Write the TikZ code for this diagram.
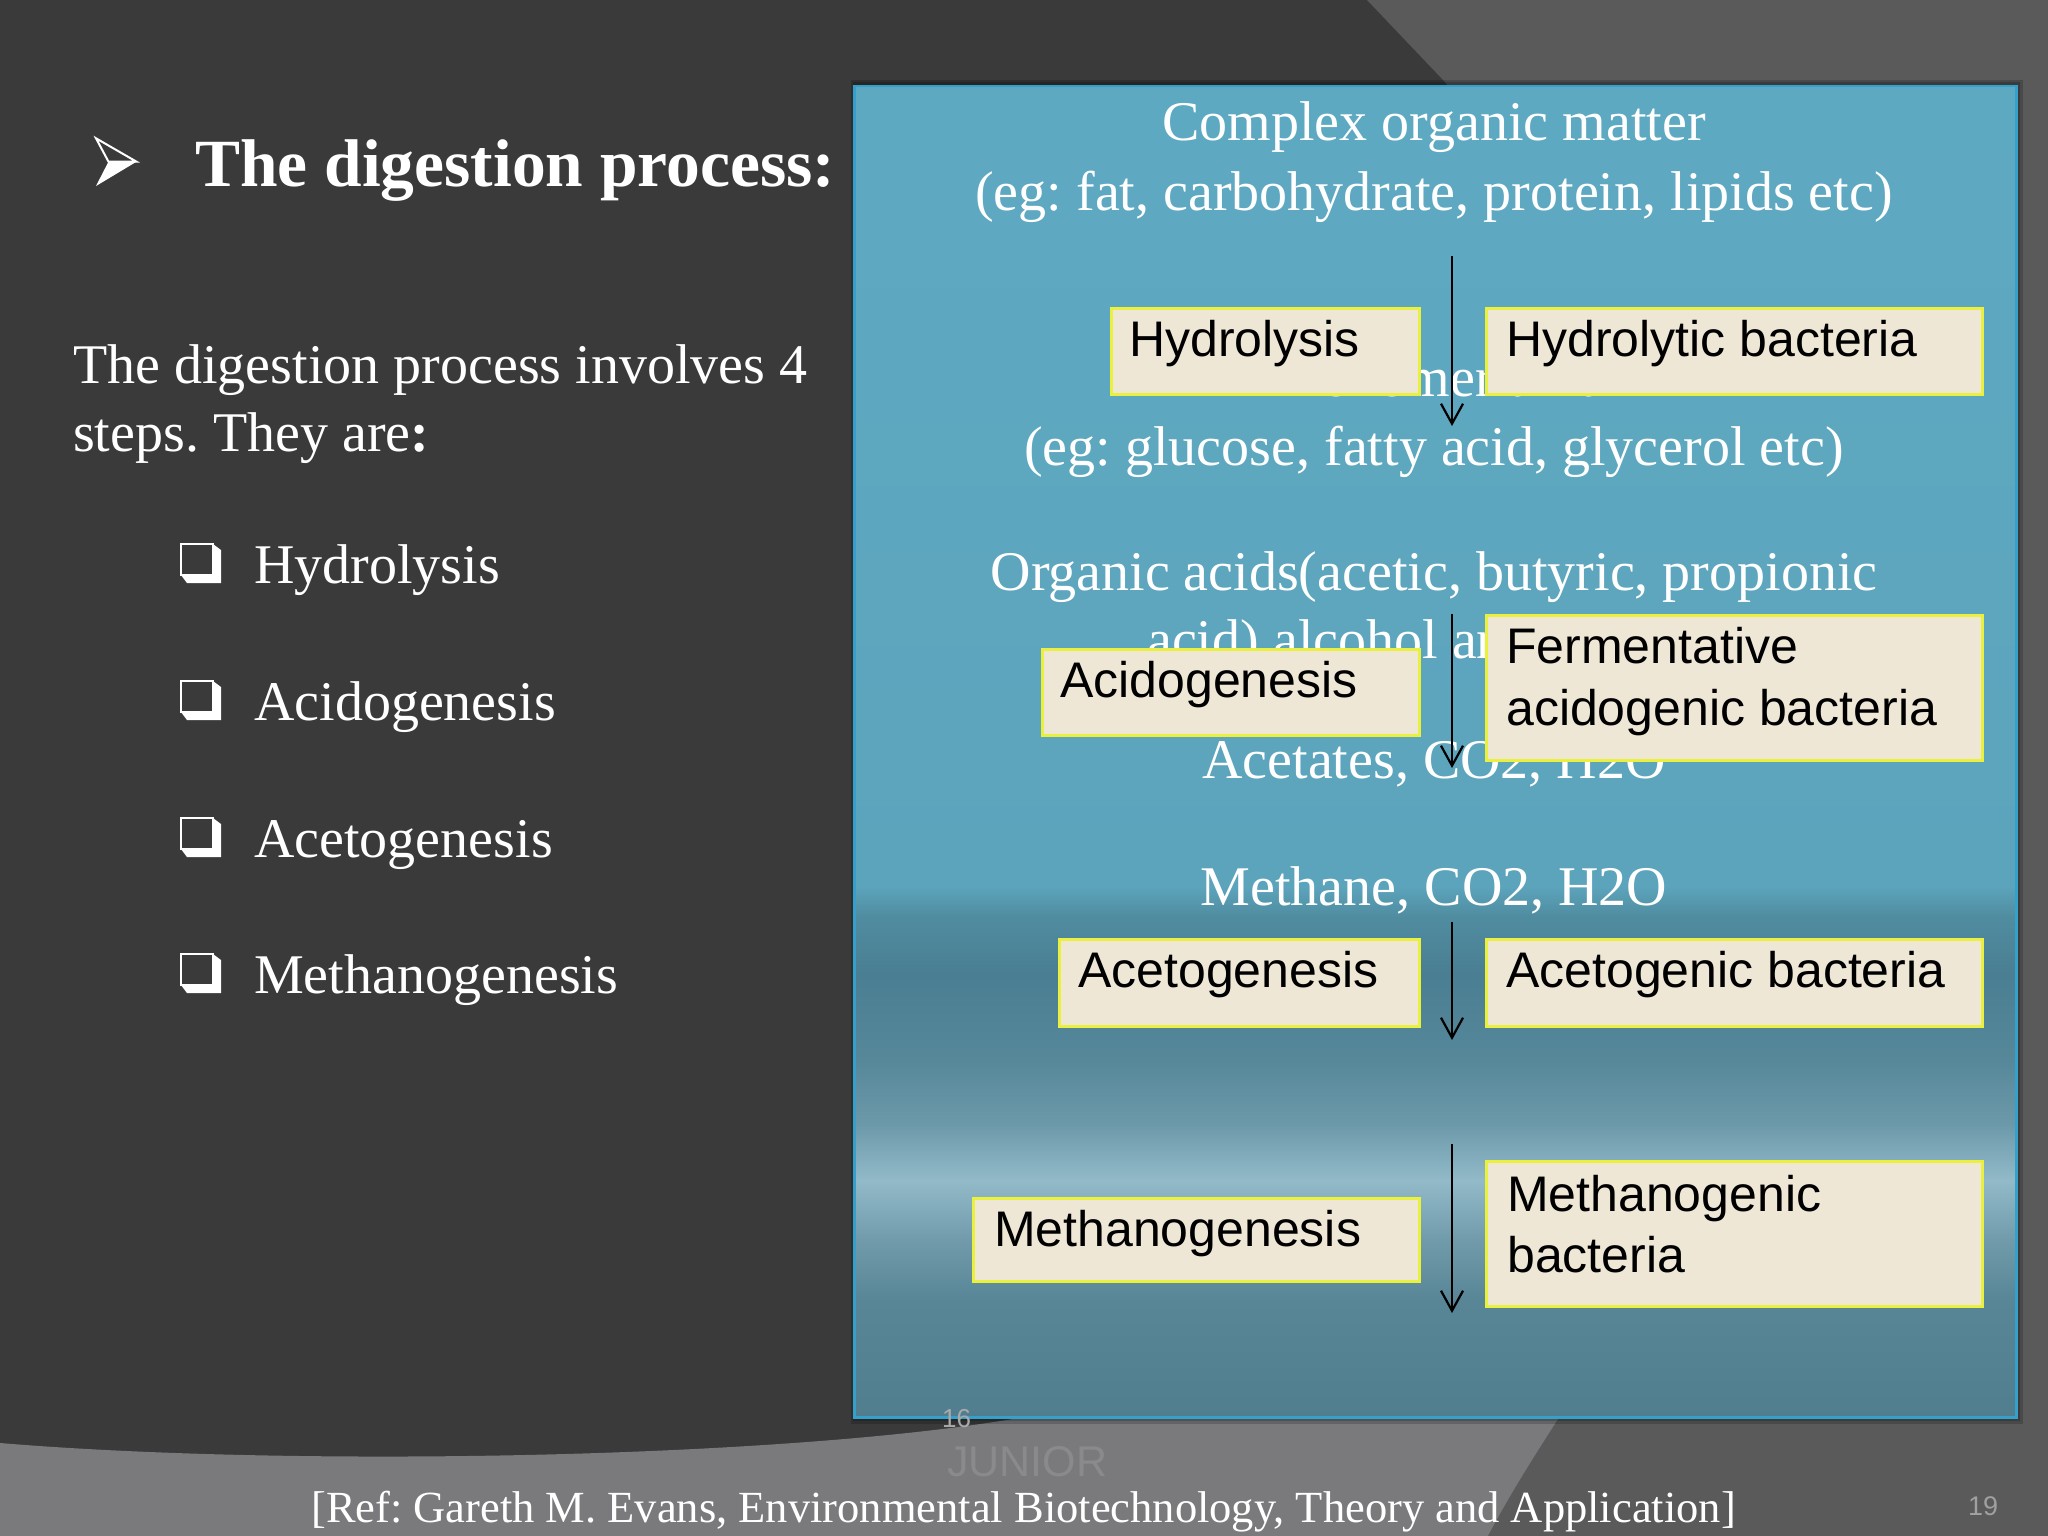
\documentclass[tikz,border=0pt]{standalone}
\usepackage{fontspec}
\setmainfont{Liberation Serif}
\newfontfamily\arialf{Liberation Sans}
\usetikzlibrary{arrows.meta}
\frenchspacing
\definecolor{bgdark}{RGB}{58,58,58}
\definecolor{bggray}{RGB}{90,90,90}
\definecolor{bglight}{RGB}{122,122,124}
\definecolor{boxfill}{RGB}{239,231,214}
\definecolor{boxedge}{RGB}{234,240,60}
\definecolor{paneledge}{RGB}{52,160,204}
\definecolor{pA}{RGB}{80,126,143}
\definecolor{pB}{RGB}{88,134,150}
\definecolor{pC}{RGB}{112,154,170}
\definecolor{pD}{RGB}{146,186,201}
\definecolor{pE}{RGB}{108,153,170}
\definecolor{pF}{RGB}{86,136,154}
\definecolor{pG}{RGB}{74,126,146}
\definecolor{pH}{RGB}{80,140,160}
\definecolor{pI}{RGB}{92,164,188}
\definecolor{pJ}{RGB}{94,169,194}
\pgfdeclareverticalshading{panelshade}{100bp}{color(0bp)=(pA); color(25bp)=(pA); color(29.4bp)=(pB); color(31.6bp)=(pC); color(33.9bp)=(pD); color(36bp)=(pE); color(38.4bp)=(pF); color(41.6bp)=(pG); color(43.8bp)=(pH); color(44.95bp)=(pI); color(75bp)=(pJ); color(100bp)=(pJ)}
\begin{document}
\begin{tikzpicture}[x=1pt,y=-1pt,
  ptext/.style={text=white, font=\fontsize{56}{67}\selectfont, anchor=base, inner sep=0},
  ltext/.style={text=white, font=\fontsize{56}{67}\selectfont, anchor=base west, inner sep=0},
  stagebox/.style={fill=boxfill, draw=boxedge, line width=3pt, inner sep=0, anchor=north west},
  lbl/.style={text=black, font=\arialf\fontsize{50}{61}\selectfont, anchor=base west, inner sep=0},
  flow/.style={draw=black, line width=2.2pt, -{Straight Barb[length=20pt,width=22pt,line width=2.2pt]}},
  chk/.style={white, line width=2.5pt}
]
\useasboundingbox (0,0) rectangle (2048,1536);
% background
\fill[bgdark] (0,0) rectangle (2048,1536);
\fill[bglight] (0,1443) .. controls (300,1468) and (800,1458) .. (1030,1416) -- (1600,1300) -- (1600,1536) -- (0,1536) -- cycle;
\fill[bggray] (1367,0) -- (2048,0) -- (2048,1536) -- (1488,1536) .. controls (1515,1485) and (1545,1440) .. (1560,1416) -- (1540,200) -- (1445,82) -- cycle;
% panel shadow
\fill[black,opacity=0.18] (851,80) rectangle (2023,1424);
\fill[black,opacity=0.18] (853,82) rectangle (2020,1421);
% panel
\node[shading=panelshade, draw=paneledge, line width=2.5pt, inner sep=0, anchor=north west,
      minimum width=1162pt, minimum height=1331pt] (panel) at (853,85) {};
% panel texts
\node[ptext] (cm1) at (1434,141) {Complex organic matter};
\node[ptext] (cm2) at (1434,210) {(eg: fat, carbohydrate, protein, lipids etc)};
\node[ptext] (mu1) at (1434,396) {Monomer unit};
\node[ptext] (mu2) at (1434,465) {(eg: glucose, fatty acid, glycerol etc)};
\node[ptext] (oa1) at (1434,590) {Organic acids(acetic, butyric, propionic};
\node[ltext] (oa2) at (1147,658) {acid) alcohol and H2};
\node[ptext] (act) at (1434,778) {Acetates, CO2, H2O};
\node[ptext] (meth) at (1434,905) {Methane, CO2, H2O};
% boxes
\node[stagebox, minimum width=308pt, minimum height=86pt] (bhyd) at (1110,307) {};
\node[stagebox, minimum width=496pt, minimum height=86pt] (bhydb) at (1485,307) {};
\node[stagebox, minimum width=377pt, minimum height=86pt] (bacid) at (1041,648) {};
\node[stagebox, minimum width=496pt, minimum height=145pt] (bferm) at (1485,614) {};
\node[stagebox, minimum width=360pt, minimum height=87pt] (baceto) at (1058,938) {};
\node[stagebox, minimum width=496pt, minimum height=87pt] (bacetob) at (1485,938) {};
\node[stagebox, minimum width=446pt, minimum height=83pt] (bmeth) at (972,1197) {};
\node[stagebox, minimum width=496pt, minimum height=145pt] (bmethb) at (1485,1160) {};
% box labels
\node[lbl] (lhyd) at (1129,356) {Hydrolysis};
\node[lbl] (lhydb) at (1506,356) {Hydrolytic bacteria};
\node[lbl] (lacid) at (1060,697) {Acidogenesis};
\node[lbl] (lferm1) at (1506,663) {Fermentative};
\node[lbl] (lferm2) at (1506,725) {acidogenic bacteria};
\node[lbl] (laceto) at (1078,987) {Acetogenesis};
\node[lbl] (lacetob) at (1506,987) {Acetogenic bacteria};
\node[lbl] (lmeth) at (994,1246) {Methanogenesis};
\node[lbl] (lmethb1) at (1507,1211) {Methanogenic};
\node[lbl] (lmethb2) at (1507,1272) {bacteria};
% arrows
\coordinate (a1s) at (1452,256); \coordinate (a1e) at (1452,426);
\coordinate (a2s) at (1452,614); \coordinate (a2e) at (1452,768);
\coordinate (a3s) at (1452,922); \coordinate (a3e) at (1452,1040);
\coordinate (a4s) at (1452,1144); \coordinate (a4e) at (1452,1313);
\draw[flow] (a1s) -- (a1e);
\draw[flow] (a2s) -- (a2e);
\draw[flow] (a3s) -- (a3e);
\draw[flow] (a4s) -- (a4e);
% left: title
\fill[white] (96,186) -- (136.5,161.7) -- (108.5,161.7) -- cycle;
\draw[white, line width=2pt, line join=miter] (96,138.3) -- (136.5,161.7) -- (108.5,161.7) -- cycle;
\node[text=white, font=\bfseries\fontsize{67.5}{80}\selectfont, anchor=base west, inner sep=0] (title) at (195,186) {The digestion process:};
\node[ltext] (para1) at (73,383) {The digestion process involves 4};
\node[ltext] (para2) at (73,451) {steps. They are\textbf{:}};
% list
\foreach \b/\t/\n in {583/Hydrolysis/i1, 720/Acidogenesis/i2, 857/Acetogenesis/i3, 993/Methanogenesis/i4}{
  \draw[chk] (181,\b-39) rectangle (213,\b-8);
  \fill[white] (213,\b-39) -- (221,\b-33) -- (221,\b) -- (187,\b) -- (181,\b-8) -- (213,\b-8) -- cycle;
  \node[ltext] (\n) at (254,\b) {\t};
}
% footer
\node[text={rgb,255:red,170;green,170;blue,170}, font=\arialf\fontsize{26}{30}\selectfont, anchor=base west, inner sep=0] (pg16) at (942,1427) {16};
\node[text={rgb,255:red,138;green,138;blue,140}, font=\arialf\fontsize{43}{50}\selectfont, anchor=base west, inner sep=0] (junior) at (947,1476) {JUNIOR};
\node[text=white, font=\fontsize{44.5}{52}\selectfont, anchor=base west, inner sep=0] (ref) at (311,1522) {[Ref: Gareth M. Evans, Environmental Biotechnology, Theory and Application]};
\node[text={rgb,255:red,160;green,160;blue,160}, font=\arialf\fontsize{27}{32}\selectfont, anchor=base west, inner sep=0] (pg19) at (1968,1515) {19};
\end{tikzpicture}
\end{document}
